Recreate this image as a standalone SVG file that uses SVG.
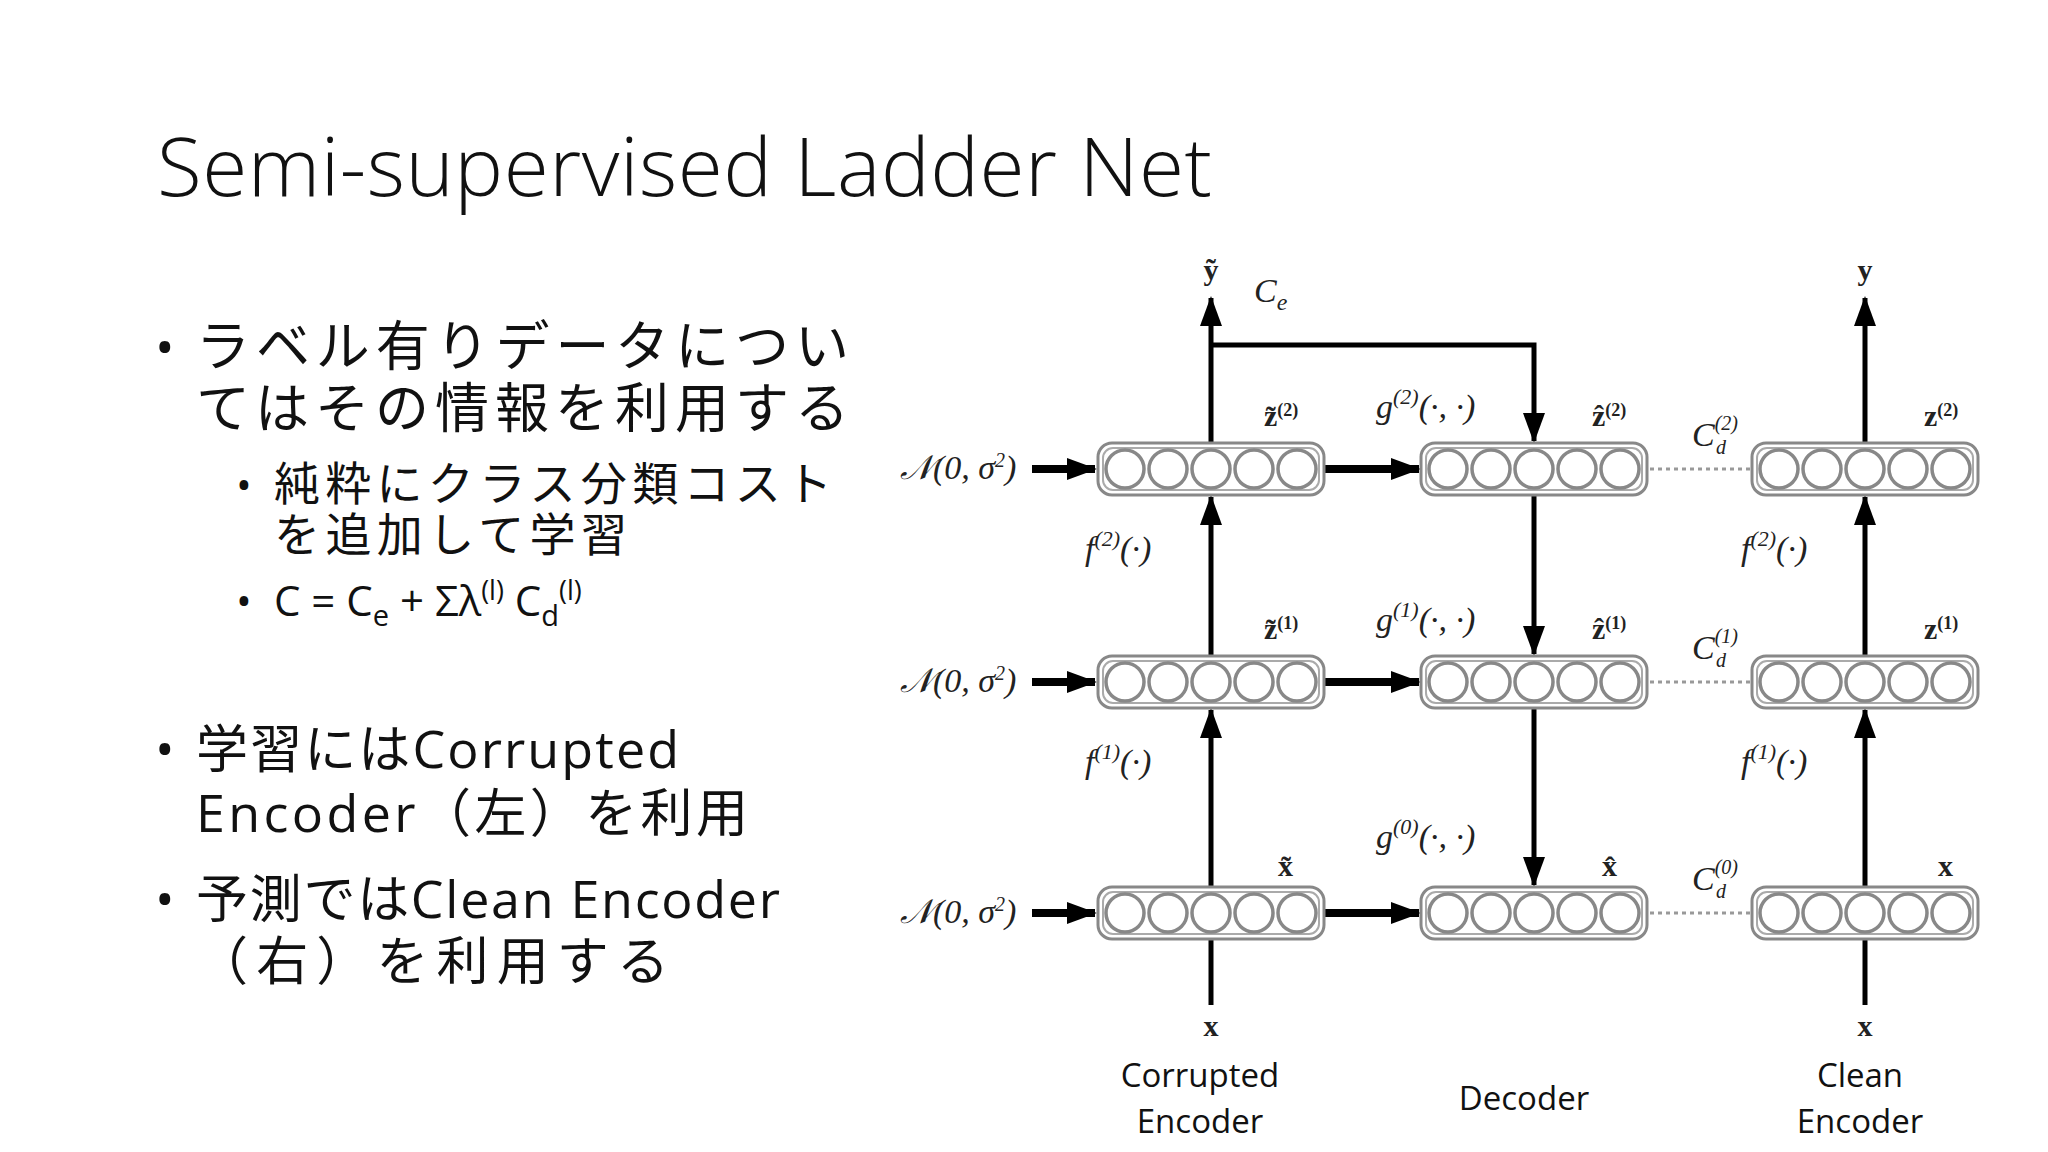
<svg xmlns="http://www.w3.org/2000/svg" xmlns:xlink="http://www.w3.org/1999/xlink" width="2048" height="1152" viewBox="0 0 2048 1152">
<style>
.t{font-family:"Open Sans","Noto Sans CJK JP",sans-serif;fill:#111}
.m{font-family:"Liberation Serif",serif;font-style:italic;fill:#222;font-size:34px}
.b{font-family:"Liberation Serif",serif;font-weight:bold;fill:#222;font-size:30px}
.cap{font-family:"Open Sans",sans-serif;font-size:33px;fill:#111;text-anchor:middle}
.ln{stroke:#000;stroke-width:5;fill:none}
.hz{stroke:#000;stroke-width:8;fill:none}
.dot{stroke:#999;stroke-width:3;stroke-dasharray:4 4;fill:none}
</style>
<defs>
<marker id="ah" markerUnits="userSpaceOnUse" markerWidth="30" markerHeight="30" viewBox="0 0 30 30" refX="28" refY="15" orient="auto"><path d="M0,4 L30,15 L0,26 Z" fill="#000"/></marker>
<g id="box">
<rect x="-113" y="-26" width="226" height="52" rx="14" fill="#fff" stroke="#888" stroke-width="3"/>
<rect x="-108" y="-21" width="216" height="42" rx="10" fill="none" stroke="#aaa" stroke-width="2"/>
<g fill="none" stroke="#888" stroke-width="3.5">
<circle cx="-86" cy="0" r="19"/><circle cx="-43" cy="0" r="19"/><circle cx="0" cy="0" r="19"/><circle cx="43" cy="0" r="19"/><circle cx="86" cy="0" r="19"/>
</g>
</g>
</defs>
<rect width="2048" height="1152" fill="#fff"/>
<text class="t" x="157" y="196" font-size="82" font-weight="300" textLength="1055" lengthAdjust="spacing">Semi-supervised Ladder Net</text>
<g class="t">
<text x="155" y="366" font-size="52">•</text>
<text x="196" y="366" font-size="54" textLength="653" lengthAdjust="spacing">ラベル有りデータについ</text>
<text x="196" y="428" font-size="54" textLength="653" lengthAdjust="spacing">てはその情報を利用する</text>
<text x="236" y="500" font-size="42">•</text>
<text x="274" y="500" font-size="46" textLength="558" lengthAdjust="spacing">純粋にクラス分類コスト</text>
<text x="274" y="551" font-size="46" textLength="353" lengthAdjust="spacing">を追加して学習</text>
<text x="236" y="616" font-size="42">•</text>
<text x="274" y="616" font-size="42">C = C<tspan font-size="29" dy="10">e</tspan><tspan dy="-10"> + Σλ</tspan><tspan font-size="27" dy="-16">(l)</tspan><tspan dy="16"> C</tspan><tspan font-size="29" dy="10">d</tspan><tspan font-size="27" dy="-26">(l)</tspan></text>
<text x="155" y="768" font-size="52">•</text>
<text x="196" y="768" font-size="52" textLength="483" lengthAdjust="spacing">学習にはCorrupted</text>
<text x="196" y="832" font-size="52" textLength="552" lengthAdjust="spacing">Encoder（左）を利用</text>
<text x="155" y="918" font-size="52">•</text>
<text x="196" y="918" font-size="52" textLength="584" lengthAdjust="spacing">予測ではClean Encoder</text>
<text x="196" y="980" font-size="52" textLength="473" lengthAdjust="spacing">（右）を利用する</text>
</g>
<g id="connectors">
<line class="ln" x1="1211" y1="1005" x2="1211" y2="889" marker-end="url(#ah)"/>
<line class="ln" x1="1211" y1="887" x2="1211" y2="710" marker-end="url(#ah)"/>
<line class="ln" x1="1211" y1="656" x2="1211" y2="497" marker-end="url(#ah)"/>
<line class="ln" x1="1211" y1="443" x2="1211" y2="298" marker-end="url(#ah)"/>
<path class="ln" d="M1211,345 H1534 V441" marker-end="url(#ah)" stroke-width="7"/>
<line class="ln" x1="1534" y1="495" x2="1534" y2="654" marker-end="url(#ah)"/>
<line class="ln" x1="1534" y1="708" x2="1534" y2="885" marker-end="url(#ah)"/>
<line class="ln" x1="1865" y1="1005" x2="1865" y2="889" marker-end="url(#ah)"/>
<line class="ln" x1="1865" y1="887" x2="1865" y2="710" marker-end="url(#ah)"/>
<line class="ln" x1="1865" y1="656" x2="1865" y2="497" marker-end="url(#ah)"/>
<line class="ln" x1="1865" y1="443" x2="1865" y2="298" marker-end="url(#ah)"/>
<line class="hz" x1="1032" y1="469" x2="1095" y2="469" marker-end="url(#ah)"/>
<line class="hz" x1="1032" y1="682" x2="1095" y2="682" marker-end="url(#ah)"/>
<line class="hz" x1="1032" y1="913" x2="1095" y2="913" marker-end="url(#ah)"/>
<line class="hz" x1="1325" y1="469" x2="1419" y2="469" marker-end="url(#ah)"/>
<line class="hz" x1="1325" y1="682" x2="1419" y2="682" marker-end="url(#ah)"/>
<line class="hz" x1="1325" y1="913" x2="1419" y2="913" marker-end="url(#ah)"/>
<line class="dot" x1="1650" y1="469" x2="1751" y2="469"/>
<line class="dot" x1="1650" y1="682" x2="1751" y2="682"/>
<line class="dot" x1="1650" y1="913" x2="1751" y2="913"/>
</g>
<g id="enc-c-2"><use href="#box" x="1211" y="469"/></g>
<g id="dec-2"><use href="#box" x="1534" y="469"/></g>
<g id="enc-2"><use href="#box" x="1865" y="469"/></g>
<g id="enc-c-1"><use href="#box" x="1211" y="682"/></g>
<g id="dec-1"><use href="#box" x="1534" y="682"/></g>
<g id="enc-1"><use href="#box" x="1865" y="682"/></g>
<g id="enc-c-0"><use href="#box" x="1211" y="913"/></g>
<g id="dec-0"><use href="#box" x="1534" y="913"/></g>
<g id="enc-0"><use href="#box" x="1865" y="913"/></g>
<g id="labels">
<text class="b" x="1211" y="280" text-anchor="middle">ỹ</text>
<text class="b" x="1865" y="280" text-anchor="middle">y</text>
<text class="m" x="1254" y="302">C<tspan font-size="24" dy="8">e</tspan></text>
<g class="m" font-size="30">
<text x="900" y="479">𝒩(0, σ<tspan font-size="20" dy="-12">2</tspan><tspan dy="12">)</tspan></text>
<text x="900" y="692">𝒩(0, σ<tspan font-size="20" dy="-12">2</tspan><tspan dy="12">)</tspan></text>
<text x="900" y="923">𝒩(0, σ<tspan font-size="20" dy="-12">2</tspan><tspan dy="12">)</tspan></text>
<text x="1085" y="560">f<tspan font-size="22" dy="-14">(2)</tspan><tspan dy="14">(·)</tspan></text>
<text x="1085" y="773">f<tspan font-size="22" dy="-14">(1)</tspan><tspan dy="14">(·)</tspan></text>
<text x="1741" y="560">f<tspan font-size="22" dy="-14">(2)</tspan><tspan dy="14">(·)</tspan></text>
<text x="1741" y="773">f<tspan font-size="22" dy="-14">(1)</tspan><tspan dy="14">(·)</tspan></text>
<text x="1376" y="418">g<tspan font-size="22" dy="-14">(2)</tspan><tspan dy="14">(·, ·)</tspan></text>
<text x="1376" y="631">g<tspan font-size="22" dy="-14">(1)</tspan><tspan dy="14">(·, ·)</tspan></text>
<text x="1376" y="848">g<tspan font-size="22" dy="-14">(0)</tspan><tspan dy="14">(·, ·)</tspan></text>
<text x="1692" y="446">C<tspan font-size="20" dy="-16">(2)</tspan><tspan font-size="20" dx="-22" dy="24">d</tspan></text>
<text x="1692" y="659">C<tspan font-size="20" dy="-16">(1)</tspan><tspan font-size="20" dx="-22" dy="24">d</tspan></text>
<text x="1692" y="890">C<tspan font-size="20" dy="-16">(0)</tspan><tspan font-size="20" dx="-22" dy="24">d</tspan></text>
</g>
<g class="b" font-size="26">
<text x="1264" y="426">z̃<tspan font-size="18" dy="-10">(2)</tspan></text>
<text x="1264" y="639">z̃<tspan font-size="18" dy="-10">(1)</tspan></text>
<text x="1278" y="876">x̃</text>
<text x="1592" y="426">ẑ<tspan font-size="18" dy="-10">(2)</tspan></text>
<text x="1592" y="639">ẑ<tspan font-size="18" dy="-10">(1)</tspan></text>
<text x="1602" y="876">x̂</text>
<text x="1924" y="426">z<tspan font-size="18" dy="-10">(2)</tspan></text>
<text x="1924" y="639">z<tspan font-size="18" dy="-10">(1)</tspan></text>
<text x="1938" y="876">x</text>
<text x="1211" y="1036" text-anchor="middle">x</text>
<text x="1865" y="1036" text-anchor="middle">x</text>
</g>
<text class="cap" x="1200" y="1087">Corrupted</text>
<text class="cap" x="1200" y="1133">Encoder</text>
<text class="cap" x="1524" y="1110">Decoder</text>
<text class="cap" x="1860" y="1087">Clean</text>
<text class="cap" x="1860" y="1133">Encoder</text>
</g>
</svg>
